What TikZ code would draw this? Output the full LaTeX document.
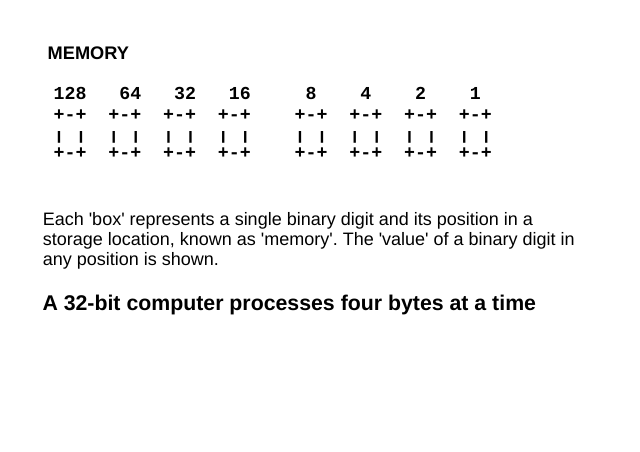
\documentclass[tikz,border=0pt]{standalone}
\usepackage{fontspec}
\setmainfont{Liberation Sans}
\newfontfamily\boxfont{Liberation Mono}
\usetikzlibrary{calc}

\newcommand{\qt}[1]{\textquotesingle#1\textquotesingle}
\newcommand{\bitbar}{\raisebox{-0.8pt}{\scalebox{1}[0.68]{|}}}
\newcommand{\cellw}{10.95}

\tikzset{
  txt/.style={inner sep=0, anchor=base west, align=left},
  bits/.style={txt, font=\boxfont\bfseries\fontsize{18.25}{19}\selectfont}
}

\begin{document}
\frenchspacing
\begin{tikzpicture}[x=1pt,y=-1pt]
  \useasboundingbox (0,0) rectangle (640,452);

  \node[txt, font=\bfseries\fontsize{18.2}{20}\selectfont] (title) at (47.5,59.3) {MEMORY};

  % one box per bit, value on top (multi-line nodes sit on their last baseline)
  \foreach \c/\n/\v in {0/0/128, 5/6/64, 10/11/32, 15/16/16, 22/23/8, 27/28/4, 32/33/2, 37/38/1} {
    \node[bits] (val\v) at ({53.5+\cellw*\n},99.3) {\v};
    \node[bits] (box\v) at ({53.5+\cellw*\c},158.3) {+-+\\\bitbar\ \bitbar\\+-+};
  }

  \node[txt, font=\fontsize{18}{20.2}\selectfont] (para) at (42.6,265.4) {Each \qt{box} represents a single binary digit and its position in a\\
    storage location, known as \qt{memory}. The \qt{value} of a binary digit in\\
    any position is shown.};

  \node[txt, font=\bfseries\fontsize{21.3}{24}\selectfont] (head) at (42.3,310) {A 32-bit computer processes four bytes at a time};
\end{tikzpicture}
\end{document}
